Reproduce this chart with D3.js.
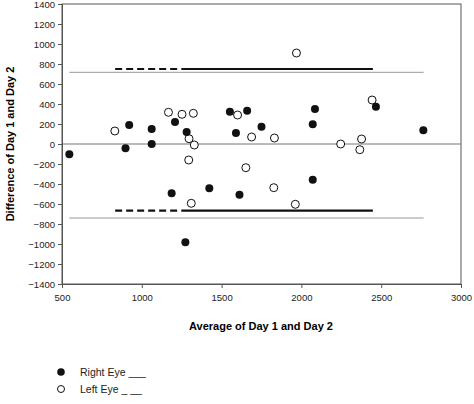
<!DOCTYPE html>
<html><head><meta charset="utf-8">
<script src="https://cdn.jsdelivr.net/npm/d3@7.9.0/dist/d3.min.js"></script>
<style>body{margin:0;background:#fff}text{font-family:"Liberation Sans",Arial,sans-serif}</style>
</head><body><svg id="c" width="474" height="404"></svg>
<script>
// data
const rightEye = [[546,-103],[898,-43],[921,190],[1062,150],[1062,0],[1208,220],[1187,-493],[1281,120],[1273,-983],[1423,-443],[1552,323],[1590,110],[1660,333],[1612,-507],[1750,173],[2071,197],[2085,350],[2071,-357],[2467,373],[2764,137]];
const leftEye = [[831,130],[1167,317],[1252,297],[1323,307],[1296,53],[1329,-10],[1294,-160],[1310,-593],[1600,290],[1688,70],[1652,-237],[1831,60],[1827,-437],[1969,910],[1962,-603],[2246,0],[2377,50],[2366,-57],[2443,440]];
const xTicks = [500,1000,1500,2000,2500,3000];
const yTicks = d3.range(-1400,1401,200);
// limits of agreement: [y, x0, xMid, x1]
const thickLimits = [[750,833,1250,2448],[-667,833,1250,2448]];
const thinLimits = [[717,546,2766],[-740,546,2766]];

const svg = d3.select('#c');
const x = d3.scaleLinear().domain([500,3000]).range([62,461]);
const y = d3.scaleLinear().domain([-1400,1400]).range([284,4]);

// frame
svg.append('rect').attr('x',62).attr('y',4).attr('width',399).attr('height',280)
  .attr('fill','none').attr('stroke','#555').attr('stroke-width',1);

// zero line
svg.append('line').attr('x1',x(500)).attr('x2',x(3000)).attr('y1',y(0)).attr('y2',y(0))
  .attr('stroke','#777').attr('stroke-width',1);

thinLimits.forEach(([v,a,b]) => svg.append('line').attr('x1',x(a)).attr('x2',x(b))
  .attr('y1',y(v)).attr('y2',y(v)).attr('stroke','#999').attr('stroke-width',1));
thickLimits.forEach(([v,a,m,b]) => {
  svg.append('line').attr('x1',x(a)).attr('x2',x(m)).attr('y1',y(v)).attr('y2',y(v))
    .attr('stroke','#111').attr('stroke-width',2.2).attr('stroke-dasharray','7,4');
  svg.append('line').attr('x1',x(m)).attr('x2',x(b)).attr('y1',y(v)).attr('y2',y(v))
    .attr('stroke','#111').attr('stroke-width',2.2);
});

const xa = svg.append('g').attr('transform','translate(0,284)')
  .call(d3.axisBottom(x).tickValues(xTicks).tickSize(4).tickFormat(d3.format('d')));
const ya = svg.append('g').attr('transform','translate(62,0)')
  .call(d3.axisLeft(y).tickValues(yTicks).tickSize(4).tickFormat(d3.format('d')));
[xa,ya].forEach(g => {
  g.select('.domain').attr('stroke','#555');
  g.selectAll('line').attr('stroke','#555');
  g.selectAll('text').attr('font-size',9.5).attr('fill','#222');
});
xa.selectAll('text').attr('dy','1.1em');

svg.append('text').attr('x',261).attr('y',330).attr('text-anchor','middle')
  .attr('font-size',11).attr('font-weight','bold').text('Average of Day 1 and Day 2');
svg.append('text').attr('transform','translate(14,144) rotate(-90)').attr('text-anchor','middle')
  .attr('font-size',11).attr('font-weight','bold').text('Difference of Day 1 and Day 2');

svg.append('g').selectAll('circle').data(leftEye).join('circle')
  .attr('cx',d=>x(d[0])).attr('cy',d=>y(d[1])).attr('r',4)
  .attr('fill','#fff').attr('stroke','#111').attr('stroke-width',1);
svg.append('g').selectAll('circle').data(rightEye).join('circle')
  .attr('cx',d=>x(d[0])).attr('cy',d=>y(d[1])).attr('r',4).attr('fill','#111');

// legend
svg.append('circle').attr('cx',61).attr('cy',372).attr('r',3.8).attr('fill','#111');
svg.append('circle').attr('cx',61).attr('cy',389).attr('r',3.5).attr('fill','#fff').attr('stroke','#111');
svg.append('text').attr('x',80).attr('y',376).attr('font-size',10.5).attr('fill','#222').text('Right Eye ___');
svg.append('text').attr('x',80).attr('y',393).attr('font-size',10.5).attr('fill','#222').text('Left Eye _ __');
</script></body></html>
